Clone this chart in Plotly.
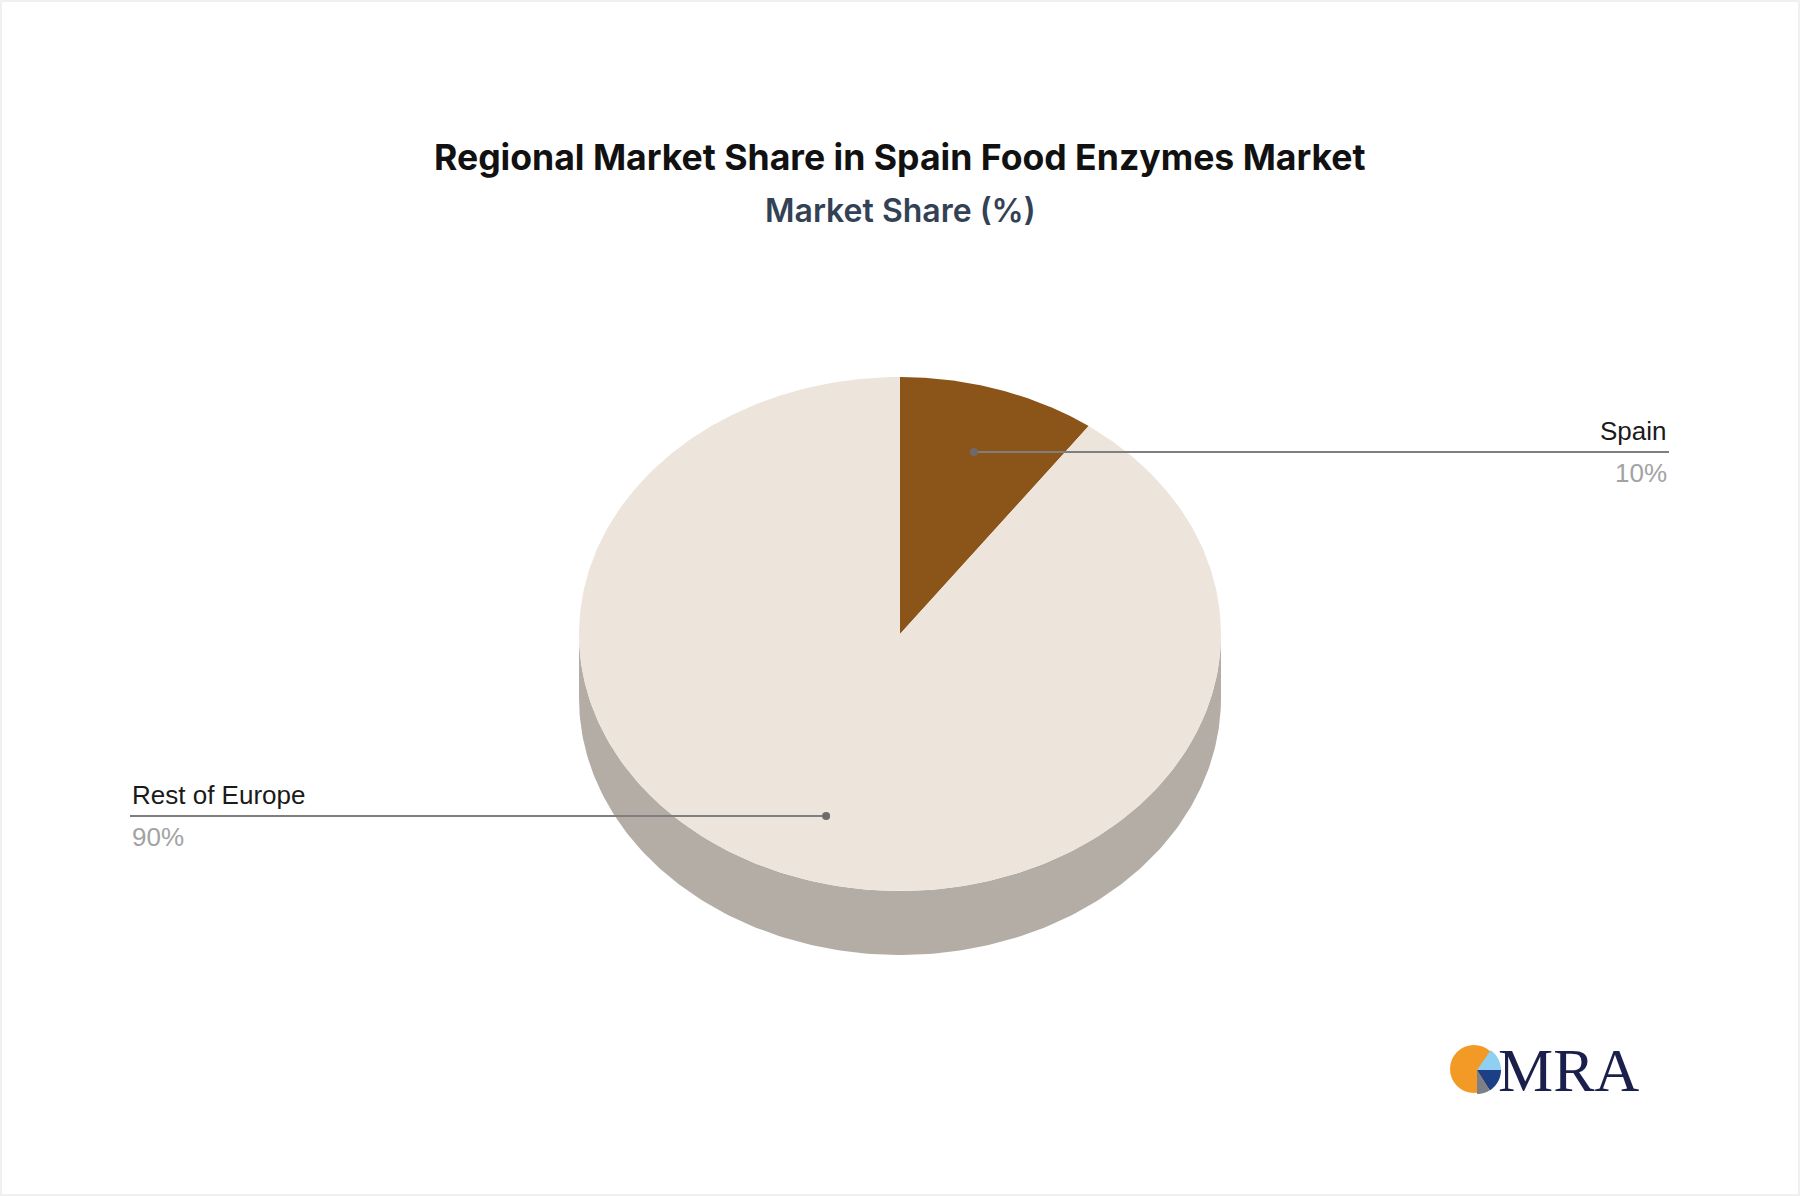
import numpy as np
import plotly.graph_objects as go

# ---------------- data ----------------
labels = ["Spain", "Rest of Europe"]
values = [10, 90]
pct_text = ["10%", "90%"]
slice_colors = ["#8b5519", "#ede5dc"]
side_colors = ["#6a4114", "#b3ada6"]

title_text = "Regional Market Share in Spain Food Enzymes Market"
subtitle_text = "Market Share (%)"

# ---------------- geometry / style ----------------
W, H = 1800, 1196
CX, CY = 900, 634
RX, RY = 321, 257
DEPTH = 64
LABEL_FRAC = 0.745
LABEL_X_RIGHT = 1669
LABEL_X_LEFT = 130


def ell(theta_deg, frac=1.0, dy=0.0):
    t = np.radians(theta_deg)
    return CX + frac * RX * np.sin(t), CY - frac * RY * np.cos(t) + dy


fig = go.Figure()

total = float(sum(values))
bounds = []
acc = 0.0
for v in values:
    a0 = acc / total * 360.0
    acc += v
    a1 = acc / total * 360.0
    bounds.append((a0, a1))

# side (extruded) walls for the front half
for (a0, a1), col in zip(bounds, side_colors):
    s, e = max(a0, 90.0), min(a1, 270.0)
    if e <= s:
        continue
    th = np.linspace(s, e, 200)
    xt, yt = ell(th)
    xb, yb = ell(th[::-1], dy=DEPTH)
    fig.add_trace(go.Scatter(
        x=np.concatenate([xt, xb]), y=np.concatenate([yt, yb]),
        fill="toself", fillcolor=col, mode="lines", line=dict(width=0, color=col),
        hoverinfo="skip", showlegend=False))

# top faces
for (a0, a1), col, lab in zip(bounds, slice_colors, labels):
    th = np.linspace(a0, a1, 400)
    xa, ya = ell(th)
    fig.add_trace(go.Scatter(
        x=np.concatenate([[CX], xa, [CX]]), y=np.concatenate([[CY], ya, [CY]]),
        fill="toself", fillcolor=col, mode="lines", line=dict(width=0, color=col),
        hoverinfo="skip", showlegend=False, name=lab))

# leader lines + labels
annotations = []
for (a0, a1), lab, pct in zip(bounds, labels, pct_text):
    mid = (a0 + a1) / 2.0
    ax_, ay_ = ell(mid, LABEL_FRAC)
    right = np.sin(np.radians(mid)) > 0
    lx = LABEL_X_RIGHT if right else LABEL_X_LEFT
    fig.add_trace(go.Scatter(
        x=[ax_, lx], y=[ay_, ay_], mode="lines",
        line=dict(color="#7f7f7f", width=2), hoverinfo="skip", showlegend=False))
    fig.add_trace(go.Scatter(
        x=[ax_], y=[ay_], mode="markers",
        marker=dict(color="#6f6a6a", size=8), hoverinfo="skip", showlegend=False))
    anchor = "right" if right else "left"
    annotations.append(dict(
        x=lx, y=ay_ - 21, text=lab, showarrow=False, xanchor=anchor, yanchor="middle",
        font=dict(family="Liberation Sans, Arial", size=26, color="#1a1a1a")))
    annotations.append(dict(
        x=lx, y=ay_ + 21, text=pct, showarrow=False, xanchor=anchor, yanchor="middle",
        font=dict(family="Liberation Sans, Arial", size=26, color="#a3a3a3")))

annotations.append(dict(
    x=900, y=157, text=title_text, showarrow=False, xanchor="center", yanchor="middle",
    font=dict(family="Inter", size=35.6, color="#111111", weight=700)))
annotations.append(dict(
    x=900, y=210, text=subtitle_text, showarrow=False, xanchor="center", yanchor="middle",
    font=dict(family="Inter", size=32, color="#334155", weight=600)))

# logo
LCX, LCY, LR = 1474, 1069, 24
annotations.append(dict(
    x=1568, y=1070, text="MRA", showarrow=False, xanchor="center", yanchor="middle",
    font=dict(family="Liberation Serif", size=62, color="#1b1f4b")))


def wedge_path(a0, a1, r, cx, cy):
    th = np.radians(np.linspace(a0, a1, 30))
    pts = [f"L{cx + r*np.sin(t):.2f},{cy - r*np.cos(t):.2f}" for t in th]
    return f"M{cx},{cy} " + " ".join(pts) + " Z"


shapes = [
    dict(type="rect", xref="x", yref="y", x0=1, y0=1, x1=W - 1, y1=H - 1,
         line=dict(color="#ececec", width=1.5), fillcolor="rgba(0,0,0,0)", layer="below"),
    dict(type="circle", xref="x", yref="y", x0=LCX - LR, y0=LCY - LR, x1=LCX + LR, y1=LCY + LR,
         fillcolor="#f39a26", line=dict(width=0)),
    dict(type="path", xref="x", yref="y", path=wedge_path(35, 90, LR, LCX + 3, LCY + 1),
         fillcolor="#8fd0f2", line=dict(width=0)),
    dict(type="path", xref="x", yref="y", path=wedge_path(90, 148, LR, LCX + 3, LCY + 1),
         fillcolor="#1d3f86", line=dict(width=0)),
    dict(type="path", xref="x", yref="y", path=wedge_path(148, 180, LR, LCX + 3, LCY + 1),
         fillcolor="#7d8088", line=dict(width=0)),
]

fig.update_layout(
    width=W, height=H, margin=dict(l=0, r=0, t=0, b=0),
    paper_bgcolor="white", plot_bgcolor="white",
    xaxis=dict(range=[0, W], visible=False, fixedrange=True),
    yaxis=dict(range=[H, 0], visible=False, fixedrange=True),
    annotations=annotations, shapes=shapes, showlegend=False,
)

fig.write_html(
    "out.html",
    config={"displayModeBar": False},
    post_script="document.body.style.margin='0';document.body.style.overflow='hidden';",
)
